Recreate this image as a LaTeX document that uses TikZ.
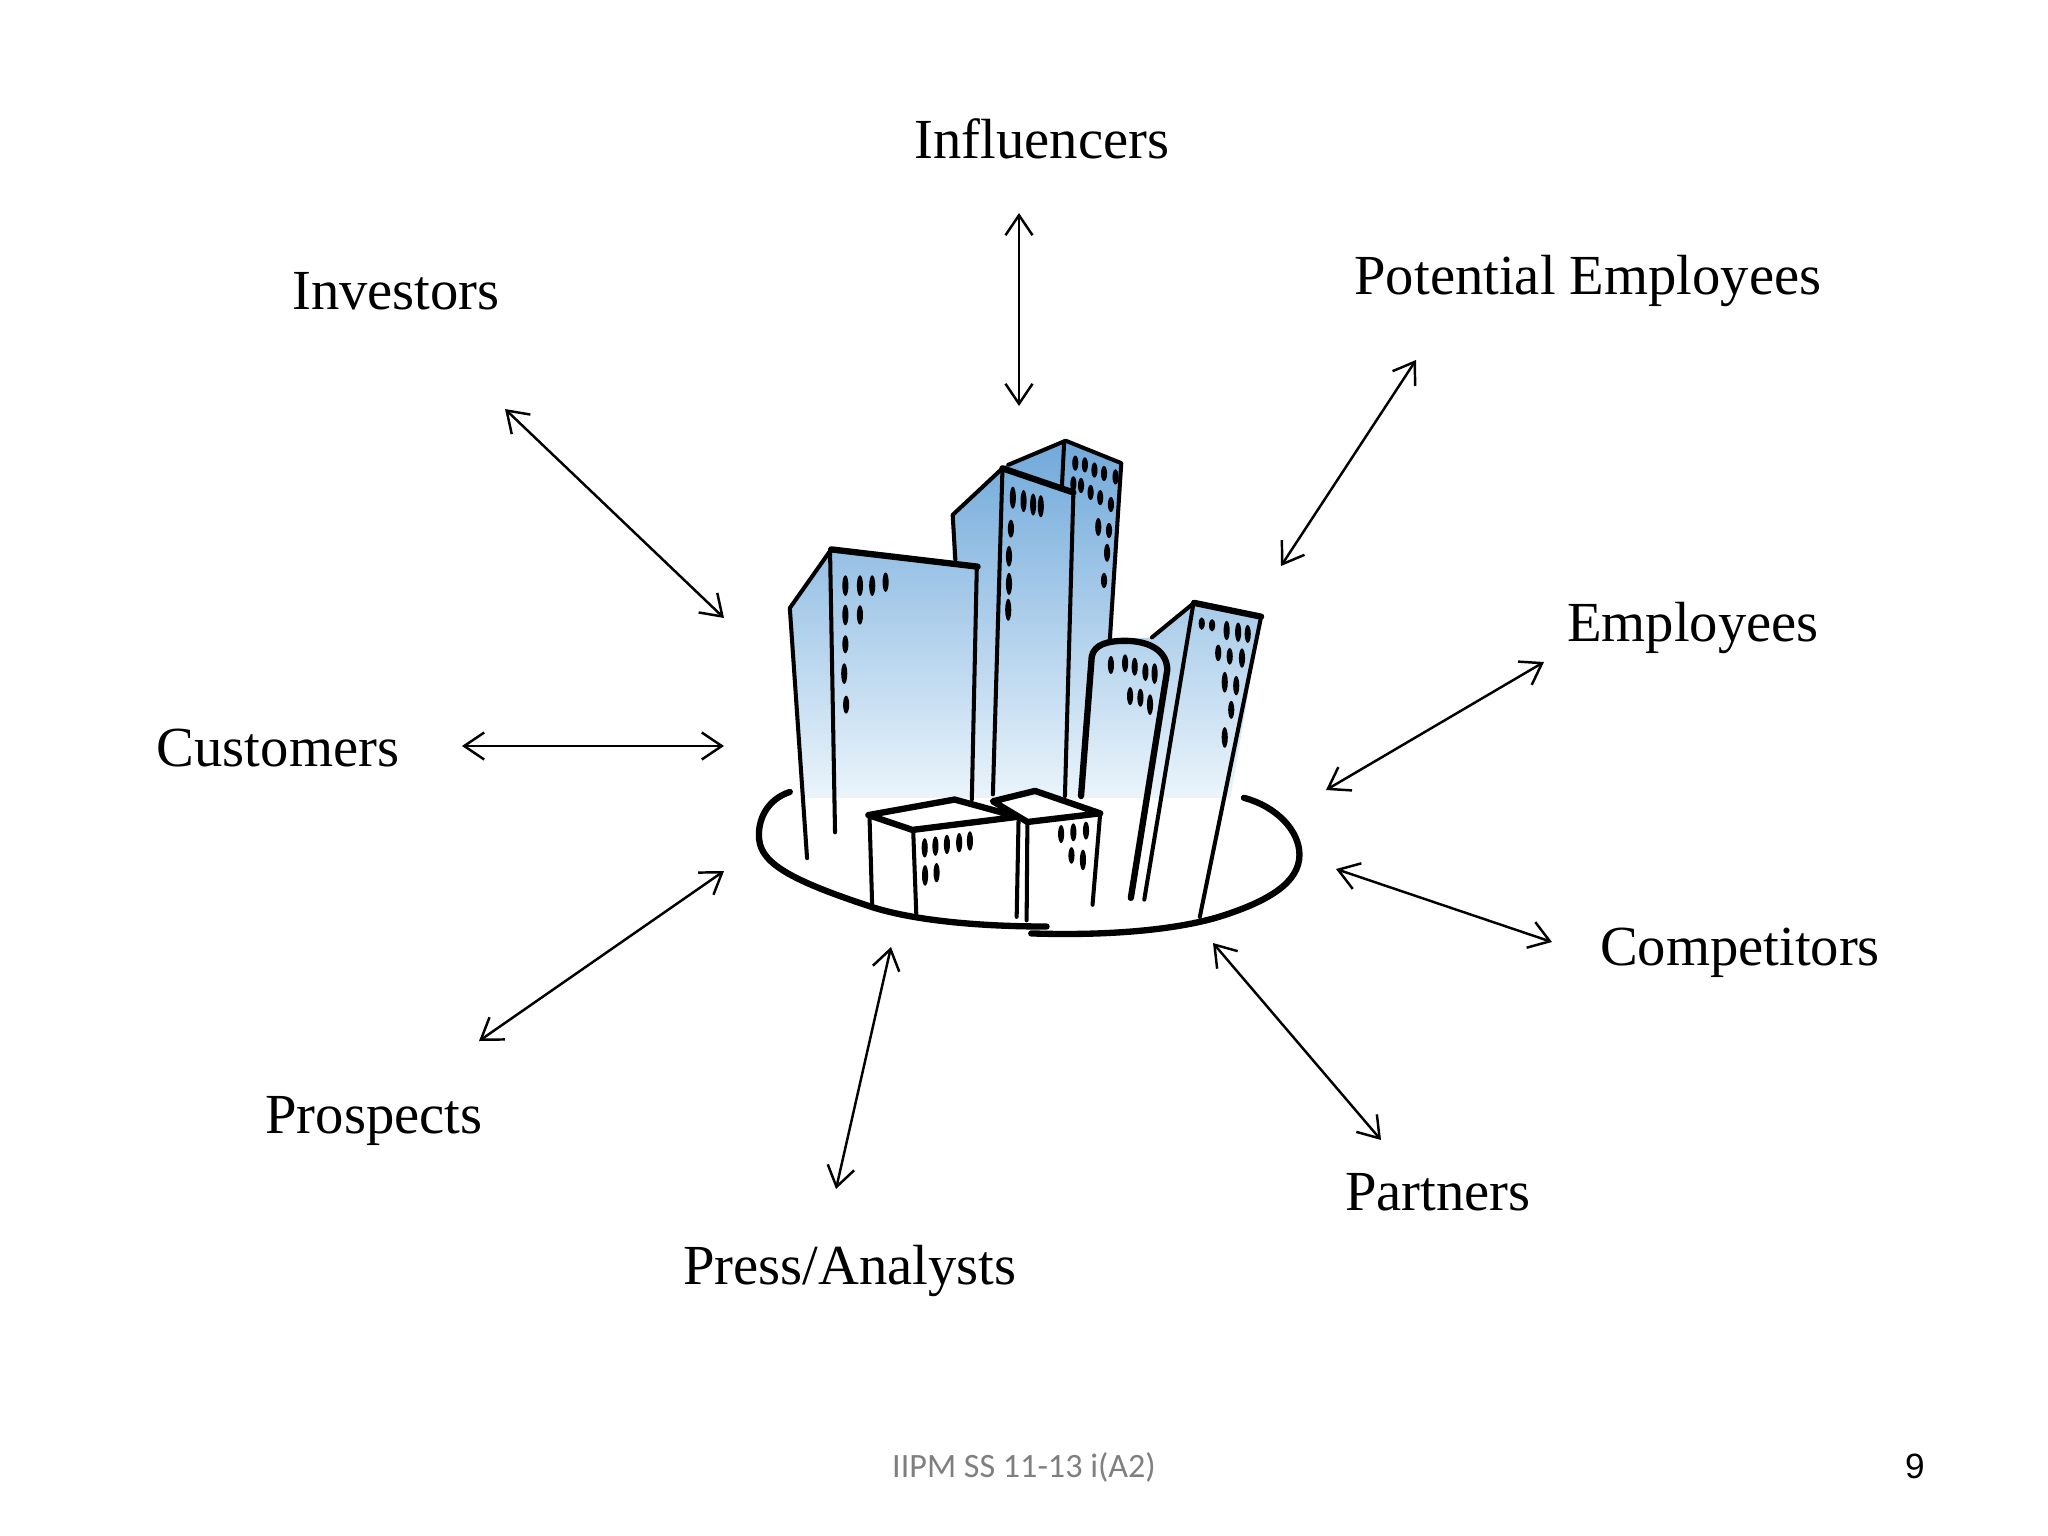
\documentclass[tikz,border=0pt]{standalone}
\usepackage{fontspec}
\setmainfont{Liberation Serif}
\newfontfamily\footfont{Carlito}
\newfontfamily\pagefont{Liberation Sans}
\usepackage{xcolor}
\usetikzlibrary{arrows.meta}
\definecolor{towertop}{HTML}{6FA8DA}
\definecolor{towermid}{HTML}{A9CDEC}
\definecolor{towerlow}{HTML}{EAF4FB}
\definecolor{footgray}{HTML}{7F7F7F}
\tikzset{
  group/.style={font=\fontsize{16.1}{19}\selectfont},
  link/.style={<->, >={Straight Barb[length=2mm,width=2.7mm]}, line width=0.7pt},
  ink/.style={line width=1.15pt, line join=round, line cap=round},
  inkbold/.style={line width=1.8pt, line join=round, line cap=round},
  pane/.style={fill=black, draw=none}
}
\begin{document}
\begin{tikzpicture}[x=0.01cm,y=-0.01cm]
  \useasboundingbox (0,0) rectangle (2048,1536);

  % Group labels
  \node[group] (influencers) at (1042,139) {Influencers};
  \node[group] (investors) at (396,291) {Investors};
  \node[group] (potential) at (1588,281) {Potential Employees};
  \node[group] (employees) at (1693,628) {Employees};
  \node[group] (customers) at (278,748) {Customers};
  \node[group] (competitors) at (1740,953) {Competitors};
  \node[group] (prospects) at (374,1121) {Prospects};
  \node[group] (partners) at (1438,1192) {Partners};
  \node[group] (press) at (850,1271) {Press/Analysts};

  % Arrow ends
  \coordinate (infA) at (1019,213);
  \coordinate (infB) at (1019,406);
  \coordinate (potA) at (1416,360);
  \coordinate (potB) at (1281,566);
  \coordinate (empA) at (1544,662);
  \coordinate (empB) at (1326,790);
  \coordinate (comA) at (1336,869);
  \coordinate (comB) at (1552,942);
  \coordinate (parA) at (1381,1140);
  \coordinate (parB) at (1213,943);
  \coordinate (preA) at (891,947);
  \coordinate (preB) at (836,1189);
  \coordinate (proA) at (724,871);
  \coordinate (proB) at (479,1041);
  \coordinate (cusA) at (462,746);
  \coordinate (cusB) at (724,746);
  \coordinate (invA) at (505,409);
  \coordinate (invB) at (724,618);

  \draw[link] (infA) -- (infB);
  \draw[link] (potA) -- (potB);
  \draw[link] (empA) -- (empB);
  \draw[link] (comA) -- (comB);
  \draw[link] (parA) -- (parB);
  \draw[link] (preA) -- (preB);
  \draw[link] (proA) -- (proB);
  \draw[link] (cusA) -- (cusB);
  \draw[link] (invA) -- (invB);

  % Buildings
  \begin{scope}[shift={(740,420)},x=0.003827cm,y=-0.003444cm]
    % Blue fade behind the towers
    \begin{scope}
      \clip (130,545) -- (238,375) -- (555,410) -- (555,275) -- (685,135) -- (850,60)
        -- (995,125) -- (965,640) -- (1075,630) -- (1185,530) -- (1360,570)
        -- (1280,1095) -- (165,1095) -- cycle;
      \shade[top color=towertop, middle color=towermid, bottom color=towerlow]
        (100,50) rectangle (1400,1095);
    \end{scope}

    % Left tower
    \draw[ink] (175,1270) -- (130,545) -- (238,375);
    \draw[ink] (248,1195) -- (235,380);
    \draw[inkbold] (238,375) -- (620,425);
    \draw[ink] (618,425) -- (605,1100);

    % Back tower
    \draw[ink] (700,130) -- (850,60) -- (995,125) -- (965,640);
    \draw[ink] (846,62) -- (840,195);

    % Tall tower
    \draw[ink] (562,405) -- (555,275) -- (685,140);
    \draw[inkbold] (685,140) -- (870,210);
    \draw[ink] (685,140) -- (660,1085);
    \draw[ink] (870,210) -- (848,1090);

    % Round tower
    \draw[inkbold] (890,1090) -- (918,685) .. controls (925,650) and (960,640) .. (1005,640)
      .. controls (1070,640) and (1115,670) .. (1115,725) -- (1020,1385);

    % Right tower
    \draw[ink] (1075,630) -- (1185,530);
    \draw[inkbold] (1185,530) -- (1360,570);
    \draw[ink] (1360,570) -- (1200,1440);
    \draw[ink] (1182,540) -- (1055,1390);

    % Small boxes
    \draw[inkbold] (335,1145) -- (560,1100) -- (725,1150) -- (450,1188) -- cycle;
    \draw[ink] (338,1150) -- (345,1410);
    \draw[ink] (452,1190) -- (460,1430);
    \draw[ink] (727,1155) -- (722,1440);
    \draw[inkbold] (660,1105) -- (770,1075) -- (940,1140) -- (750,1165) -- cycle;
    \draw[ink] (750,1165) -- (748,1450);
    \draw[ink] (940,1140) -- (920,1405);

    % Ground ring
    \draw[inkbold] (130,1078) .. controls (70,1100) and (45,1160) .. (50,1215)
      .. controls (55,1290) and (150,1340) .. (340,1410)
      .. controls (450,1450) and (620,1468) .. (800,1468);
    \draw[inkbold] (760,1488) .. controls (950,1495) and (1130,1480) .. (1250,1440)
      .. controls (1380,1395) and (1460,1340) .. (1460,1260)
      .. controls (1460,1190) and (1400,1120) .. (1315,1095);

    % Windows
    \foreach \wx/\wy/\wh in {275/480/30,313/480/30,345/480/30,380/470/28,275/565/30,313/565/28,
      275/650/26,272/735/30,277/825/26,
      712/225/32,740/235/32,765/245/32,785/250/32,707/315/26,702/395/30,702/475/32,700/550/32,
      875/125/22,900/130/22,925/145/22,950/155/22,980/165/22,870/185/22,890/190/22,915/210/22,
      940/225/22,968/245/22,935/310/26,963/320/22,958/385/26,950/465/22,
      968/710/26,1005/705/26,1030/715/26,1058/730/26,1082/735/30,1018/800/26,1045/805/26,1070/825/30,
      1205/590/18,1232/595/18,1270/610/28,1300/615/28,1325/620/26,1248/675/24,1278/685/24,1310/690/28,
      1265/760/30,1295/770/28,1282/840/26,1265/920/30,
      482/1240/28,510/1235/28,540/1230/28,572/1225/28,600/1220/28,483/1320/30,513/1312/28,
      838/1200/26,870/1195/26,903/1190/26,865/1262/24,895/1275/30}
      \fill[pane] (\wx,\wy) ellipse [x radius=8, y radius=\wh];
  \end{scope}

  % Footer
  \node[font=\footfont\fontsize{9.7}{11}\selectfont, text=footgray] (footer) at (1024,1467) {IIPM SS 11-13 i(A2)};
  \node[font=\pagefont\fontsize{10}{12}\selectfont] (pagenum) at (1915,1466) {9};
\end{tikzpicture}
\end{document}
